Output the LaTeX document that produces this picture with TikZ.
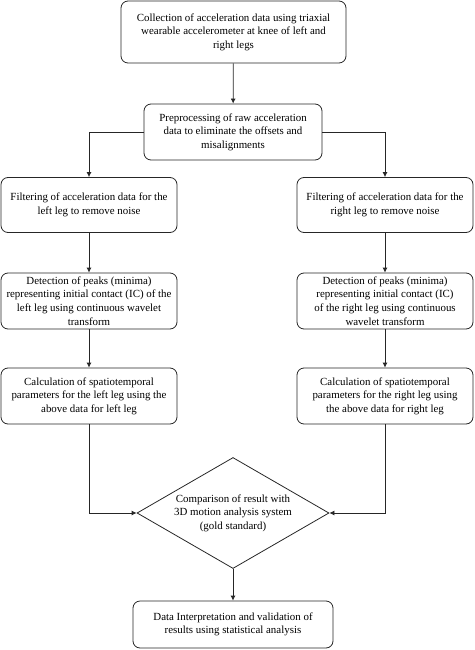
\documentclass[tikz,border=0pt]{standalone}
\usepackage{fontspec}
\setmainfont{Liberation Serif}
\usetikzlibrary{arrows.meta,shapes.geometric}
\begin{document}
\begin{tikzpicture}[x=1pt,y=-1pt,
  box/.style={draw=black!85, line width=0.8pt, rounded corners=7pt, align=center, inner sep=0pt,
    font=\fontsize{10.9}{13.6}\selectfont},
  dia/.style={draw=black!85, line width=0.8pt, diamond, aspect=1.73, align=center, inner sep=0pt,
    font=\fontsize{10.9}{13.6}\selectfont},
  arr/.style={draw=black!85, line width=0.8pt, -{Latex[length=5pt,width=5pt]}}]
\useasboundingbox (0,0) rectangle (474,650);
\node[box, minimum width=225pt, minimum height=62pt] (b1) at (233.5,32)
  {Collection of acceleration data using triaxial\\ wearable accelerometer at knee of left and\\ right legs};
\node[box, minimum width=178pt, minimum height=56pt] (b2) at (233,132)
  {Preprocessing of raw acceleration\\ data to eliminate the offsets and\\ misalignments};
\node[box, minimum width=176pt, minimum height=55pt] (l1) at (89,205)
  {Filtering of acceleration data for the\\ left leg to remove noise};
\node[box, minimum width=176pt, minimum height=55pt] (r1) at (385,205)
  {Filtering of acceleration data for the\\ right leg to remove noise};
\node[box, minimum width=176pt, minimum height=56pt] (l2) at (89,301)
  {Detection of peaks (minima)\\ representing initial contact (IC) of the\\ left leg using continuous wavelet\\ transform};
\node[box, minimum width=176pt, minimum height=56pt] (r2) at (385,301)
  {Detection of peaks (minima)\\ representing initial contact (IC)\\ of the right leg using continuous\\ wavelet transform};
\node[box, minimum width=176pt, minimum height=56pt] (l3) at (89,396)
  {Calculation of spatiotemporal\\ parameters for the left leg using the\\ above data for left leg};
\node[box, minimum width=176pt, minimum height=56pt] (r3) at (385,396)
  {Calculation of spatiotemporal\\ parameters for the right leg using\\ the above data for right leg};
\node[dia, minimum width=192pt, minimum height=111pt] (d) at (233,513)
  {Comparison of result with\\ 3D motion analysis system\\ (gold standard)};
\node[box, minimum width=200pt, minimum height=47pt] (b6) at (233,624.5)
  {Data Interpretation and validation of\\ results using statistical analysis};
\draw[arr] (b1) -- (b2);
\draw[arr] (b2.west) -| (l1.north);
\draw[arr] (b2.east) -| (r1.north);
\draw[arr] (l1) -- (l2);
\draw[arr] (r1) -- (r2);
\draw[arr] (l2) -- (l3);
\draw[arr] (r2) -- (r3);
\draw[arr] (l3.south) |- (d.west);
\draw[arr] (r3.south) |- (d.east);
\draw[arr] (d.south) -- (b6.north);
\end{tikzpicture}
\end{document}
